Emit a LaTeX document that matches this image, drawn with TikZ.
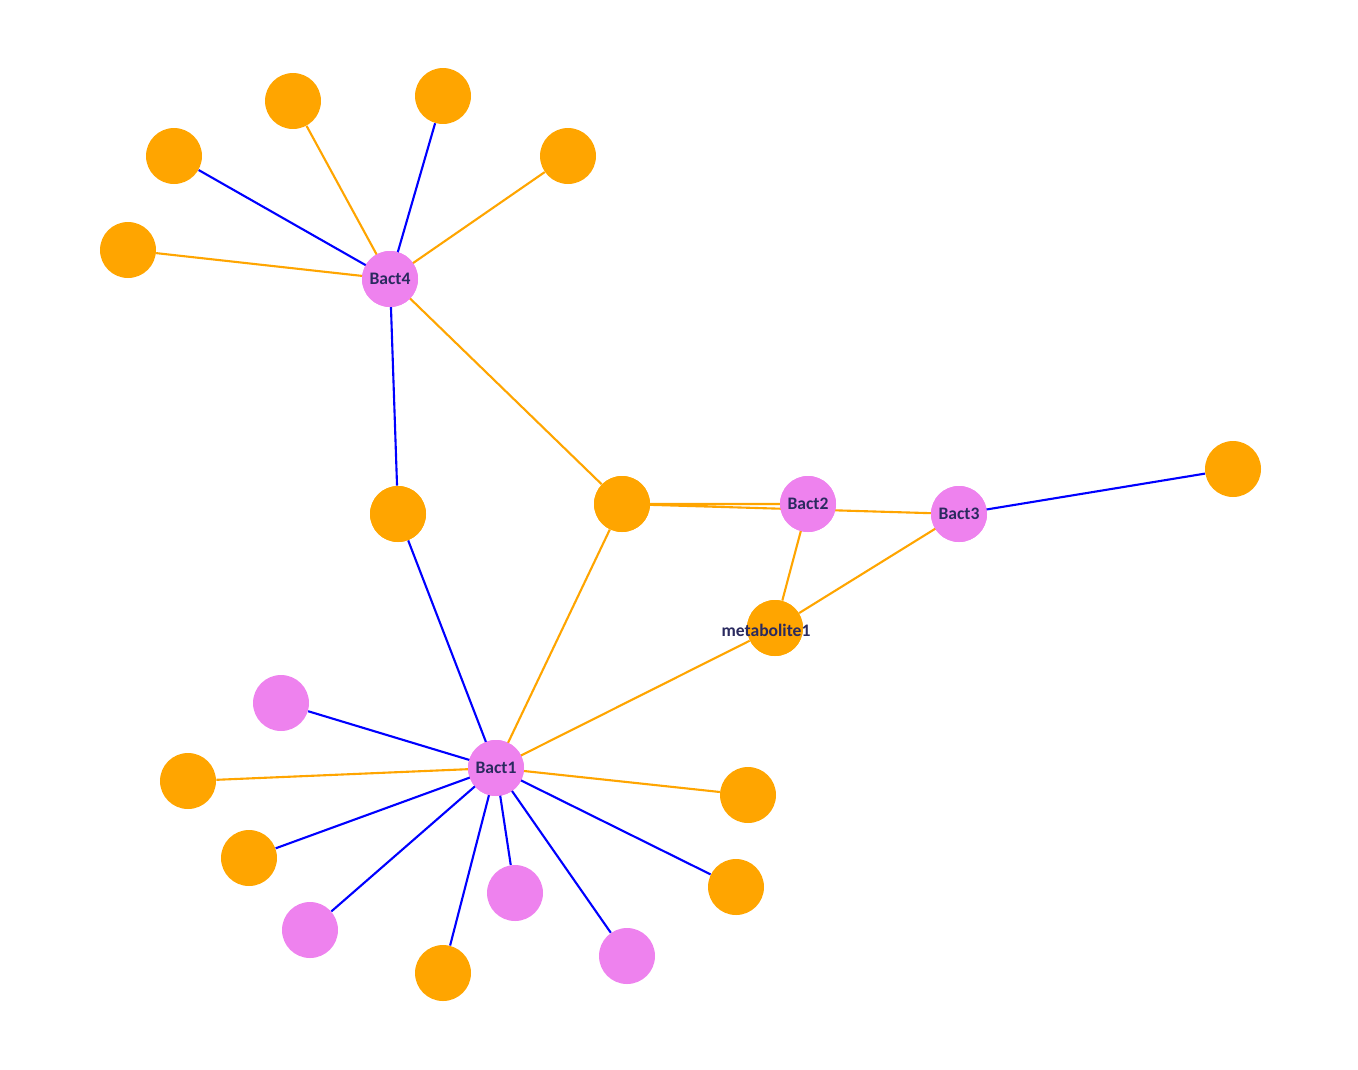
\documentclass[tikz,border=0pt]{standalone}
\usepackage{fontspec}
\setmainfont{Carlito}
\begin{document}
\begin{tikzpicture}[x=0.02cm,y=-0.02cm,
  nd/.style={circle,minimum size=1.12cm,inner sep=0pt,font=\bfseries\fontsize{10}{12}\selectfont,text=lbl},
  on/.style={nd,fill=orng},
  pn/.style={nd,fill=vio},
  oe/.style={draw=orng,line width=1.2pt},
  be/.style={draw=blue,line width=1.2pt}]
\definecolor{orng}{HTML}{FFA500}
\definecolor{vio}{HTML}{EE82EE}
\definecolor{lbl}{HTML}{2A2A5F}
\useasboundingbox (0,0) rectangle (1358,1069);
% nodes
\node[pn] (b4) at (390,279) {Bact4};
\node[pn] (b1) at (496,768) {Bact1};
\node[pn] (b2) at (808,504) {Bact2};
\node[pn] (b3) at (959,514) {Bact3};
\node[on] (m1) at (775,628) {};
\node[on] (M) at (622,504) {};
\node[on] (o1) at (398,514) {};
\node[on] (r) at (1233,469) {};
\node[on] (a1) at (174,156) {};
\node[on] (a2) at (293,101) {};
\node[on] (a3) at (443,96) {};
\node[on] (a4) at (568,156) {};
\node[on] (a5) at (128,250) {};
\node[pn] (c1) at (281,703) {};
\node[on] (c2) at (188,781) {};
\node[on] (c3) at (249,858) {};
\node[pn] (c4) at (310,930) {};
\node[on] (c5) at (443,973) {};
\node[pn] (c6) at (515,893) {};
\node[pn] (c7) at (627,956) {};
\node[on] (c8) at (736,887) {};
\node[on] (c9) at (748,795) {};
% edges (behind)
\begin{scope}[on background layer/.style={}]
\end{scope}
\begin{pgfinterruptboundingbox}\end{pgfinterruptboundingbox}
\path[be] (b4.center)--(a1) (b4.center)--(a3) (b4.center)--(o1) (b1.center)--(o1)
 (b3.center)--(r) (b1.center)--(c1) (b1.center)--(c3) (b1.center)--(c4) (b1.center)--(c5)
 (b1.center)--(c6) (b1.center)--(c7) (b1.center)--(c8);
\path[oe] (b4.center)--(a2) (b4.center)--(a4) (b4.center)--(a5) (b4.center)--(M)
 (b1.center)--(M) (b1.center)--(m1) (M.center)--(b2.center) (M.center)--(b3.center)
 (b2.center)--(m1) (b3.center)--(m1) (b1.center)--(c2) (b1.center)--(c9);
% redraw nodes on top
\foreach \n/\s/\t in {b4/pn/Bact4,b1/pn/Bact1,b2/pn/Bact2,b3/pn/Bact3}{
  \node[\s] at (\n) {\t};}
\node[on] at (m1) {};
\node[on] at (M) {};
\node[on] at (o1) {};
\node[font=\bfseries\fontsize{10}{12}\selectfont,text=lbl] at (766,630) {metabolite1};
\end{tikzpicture}
\end{document}
